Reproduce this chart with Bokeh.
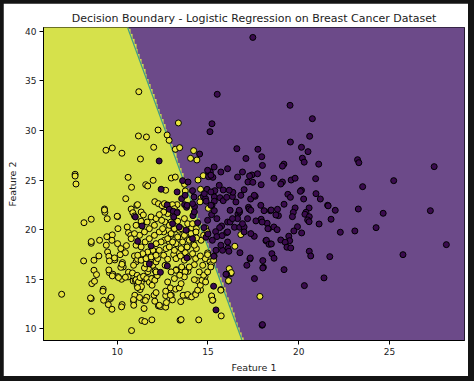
import numpy as np
from bokeh.plotting import figure
from bokeh.layouts import column
from bokeh.models import Range1d, FixedTicker, LinearColorMapper
from bokeh.embed import file_html
from bokeh.resources import INLINE

# ---------------- data ----------------
title_text = "Decision Boundary - Logistic Regression on Breast Cancer Dataset"
x_label = "Feature 1"
y_label = "Feature 2"
x_ticks = [10, 15, 20, 25]
y_ticks = [10, 15, 20, 25, 30, 35, 40]

# logistic-regression model (benign logit = cx*x + cy*y + b)
coef_x = -0.50
coef_y = -0.10
intercept = 9.323

benign = [
    (11.19, 33.9), (13.37, 30.75), (12.25, 30.04), (11.17, 29.44), (11.61, 29.34), (12.75, 29.54),
    (12.86, 29.0), (12.01, 28.3), (13.2, 28.1), (13.44, 28.26), (14.21, 27.96), (9.38, 28.0),
    (9.73, 28.23), (10.26, 27.7), (11.28, 27.12), (14.39, 27.02), (14.04, 27.19),
    (7.68, 25.58), (7.68, 25.4), (7.73, 24.6), (10.6, 25.27), (10.79, 24.27), (11.57, 24.53),
    (11.68, 24.4), (11.98, 24.97), (12.98, 25.2), (13.2, 25.3), (12.67, 23.97), (13.71, 24.57),
    (13.75, 23.9), (14.45, 25.0), (14.74, 25.44), (14.59, 24.07), (14.62, 23.2), (14.56, 22.8),
    (15.02, 22.15), (10.47, 23.12), (12.07, 22.82), (12.27, 22.62), (12.47, 22.42), (13.3, 22.52),
    (13.04, 22.39), (9.3, 22.08), (9.32, 21.75), (9.45, 21.1), (10.02, 21.31), (10.77, 22.08),
    (10.86, 21.71), (11.08, 22.45), (11.32, 21.78), (11.44, 21.48), (10.95, 21.38), (8.17, 20.7),
    (8.57, 21.05), (11.12, 22.52),
    (9.03, 18.93), (8.57, 18.63), (8.15, 16.85), (8.99, 17.35), (9.4, 18.43), (9.43, 19.29),
    (9.73, 19.47), (9.71, 18.93), (10.04, 20.1), (10.55, 20.27), (10.62, 19.7), (10.75, 19.43),
    (10.02, 18.59), (10.2, 18.09), (10.45, 17.68), (10.51, 18.39), (9.47, 17.75), (9.54, 17.32),
    (10.16, 17.48), (9.87, 16.95), (8.72, 15.91), (8.86, 15.47), (8.6, 14.56), (8.75, 14.8),
    (9.23, 14.0), (9.21, 13.8), (6.94, 13.49), (8.57, 13.05), (8.59, 11.77), (9.25, 12.89),
    (9.71, 11.98), (9.63, 13.05), (10.27, 12.45), (9.57, 15.67), (9.76, 15.51), (10.04, 15.27),
    (10.24, 15.0), (10.29, 16.68), (10.33, 16.24), (10.62, 15.71), (10.6, 15.24), (10.84, 15.64),
    (10.88, 14.83), (11.1, 15.4), (11.1, 14.83), (11.32, 14.66), (11.26, 13.96), (11.45, 12.89),
    (11.63, 13.19), (10.97, 13.39), (10.9, 12.79), (11.48, 12.05), (11.36, 10.84), (11.52, 10.74),
    (11.91, 10.91), (10.79, 9.83), (13.46, 10.88), (14.49, 10.91), (12.27, 12.32), (12.4, 12.25),
    (12.67, 12.19), (12.8, 13.76), (12.67, 13.35), (12.98, 13.39), (13.04, 12.92), (13.5, 12.75),
    (13.74, 13.39), (13.94, 13.29), (14.32, 13.55), (14.59, 13.93), (15.2, 13.29), (15.27, 12.89),
    (15.71, 13.96), (15.73, 11.31), (14.73, 14.93), (14.84, 15.27), (14.43, 14.86), (14.25, 14.96),
    (13.9, 15.8), (13.77, 15.87), (13.52, 15.97), (13.26, 15.97), (11.91, 15.1), (12.16, 15.34),
    (12.09, 15.87), (11.69, 15.77), (11.53, 15.07), (11.24, 15.04), (11.0, 14.86), (11.1, 14.33),
    (15.34, 17.35), (14.98, 17.65), (14.85, 17.08), (15.11, 16.75), (15.18, 16.48), (14.36, 18.09),
    (14.21, 18.53), (13.85, 18.23), (13.75, 17.68), (13.36, 17.72), (13.42, 19.94), (13.6, 19.23),
    (13.97, 19.6), (14.1, 20.2), (14.36, 20.1),
    (9.57, 16.85), (9.85, 17.15), (10.2, 16.2), (10.26, 16.51), (9.54, 15.94), (9.73, 15.34),
    (10.07, 15.17), (10.45, 15.2), (11.04, 14.96), (11.17, 14.73), (11.26, 15.17), (11.34, 14.26),
    (11.12, 14.16), (11.45, 15.3), (11.63, 15.07), (11.77, 14.7), (11.9, 15.07), (11.92, 14.4),
    (12.07, 14.9), (12.21, 15.37), (12.14, 15.74), (11.72, 16.07), (11.5, 16.14), (11.96, 16.41),
    (11.59, 16.55), (12.14, 16.75), (11.04, 16.75), (10.9, 16.41), (10.95, 17.35), (11.12, 17.02),
    (11.37, 17.42), (11.63, 17.35), (11.87, 17.08), (12.07, 17.35), (12.23, 17.08), (8.53, 13.12),
    (9.51, 12.45), (9.67, 13.19), (10.24, 12.22), (10.9, 12.95), (10.91, 12.38), (11.23, 13.16),
    (11.55, 12.86), (12.03, 13.39), (12.07, 12.79), (12.14, 13.66), (12.32, 12.38), (8.72, 16.92),
    (12.56, 17.42), (12.78, 17.02), (12.64, 16.41), (13.11, 17.48), (13.24, 17.08), (13.48, 17.35),
    (13.7, 16.92), (13.92, 17.25), (14.15, 17.58), (14.32, 17.08), (14.58, 17.35), (14.98, 17.48),
    (14.71, 16.41), (14.25, 16.47), (13.97, 16.24), (13.55, 16.24), (13.24, 15.91), (12.97, 15.74),
    (13.74, 15.74), (13.7, 15.24), (13.44, 15.41), (13.15, 15.07), (12.78, 14.73), (12.93, 14.13),
    (12.67, 13.8), (12.93, 13.39), (12.71, 12.65), (13.22, 14.0), (13.42, 14.13), (13.52, 14.56),
    (13.63, 13.39), (13.88, 13.46), (14.1, 13.22), (14.32, 13.46), (14.43, 13.9), (14.58, 14.4),
    (14.67, 14.9), (14.87, 14.73), (14.76, 15.41), (14.52, 15.74), (14.98, 15.74), (15.16, 16.24),
    (15.31, 16.92), (15.2, 13.32), (15.25, 12.89), (15.71, 13.9), (16.17, 16.07), (16.26, 15.57),
    (16.13, 14.83), (17.86, 13.27), (13.52, 10.94),
    (12.6, 22.62), (12.82, 22.45), (13.04, 22.52), (13.15, 22.11), (13.3, 21.78), (13.08, 21.61),
    (12.78, 21.61), (12.56, 21.78), (12.64, 20.77), (12.97, 20.77), (13.33, 20.85), (13.7, 21.11),
    (13.88, 20.6), (14.15, 20.6), (13.52, 20.1), (13.15, 20.04), (12.82, 19.94), (12.56, 19.77),
    (12.97, 19.43), (13.33, 19.26), (13.7, 19.43), (14.07, 19.6), (14.34, 19.77), (13.97, 18.93),
    (13.6, 18.76), (13.24, 18.59), (12.87, 18.76), (12.6, 18.93), (12.69, 18.09), (13.15, 17.92),
    (13.52, 18.09), (13.85, 18.26), (14.25, 18.43), (14.62, 18.93), (14.76, 19.43), (14.37, 19.16),
    (16.81, 19.5), (16.48, 18.33), (14.87, 20.17), (14.95, 19.8), (16.28, 15.67), (16.13, 14.86),
    (11.04, 20.44), (11.32, 20.85), (11.65, 20.77), (11.87, 21.28), (12.14, 21.11), (12.32, 21.51),
    (12.45, 20.94), (12.05, 20.44), (11.77, 20.1), (11.5, 19.77), (11.23, 19.43), (10.95, 19.6),
    (10.77, 19.09), (11.04, 18.43), (11.32, 18.26), (11.54, 18.76), (11.77, 19.09), (12.05, 19.43),
    (12.32, 19.77), (12.5, 20.1), (12.42, 18.76), (12.14, 18.59), (11.96, 17.92), (11.68, 17.75),
    (11.41, 17.58), (11.13, 17.42), (11.32, 16.92), (11.59, 17.08), (11.87, 17.25), (12.14, 17.42),
    (12.32, 17.92), (12.87, 18.26), (13.05, 18.76), (12.78, 19.09), (12.97, 19.6), (13.15, 20.1),
    (12.87, 20.44), (9.3, 21.98), (10.0, 21.35), (8.57, 18.8),
]

malignant = [
    (19.52, 32.53), (20.75, 31.18), (20.6, 29.41), (19.54, 28.83), (20.15, 28.3), (20.51, 27.86),
    (20.2, 27.2), (20.3, 26.8), (19.18, 26.6), (19.1, 26.4), (21.1, 26.6), (23.24, 27.05),
    (23.31, 26.75), (27.46, 26.35), (18.63, 25.18), (19.1, 24.8), (19.01, 24.6), (19.58, 25.0),
    (19.8, 25.18), (20.93, 25.14), (25.23, 24.94), (23.52, 24.33), (20.15, 23.97), (20.09, 23.86),
    (19.4, 23.56), (19.54, 23.26), (20.95, 23.63), (21.19, 23.09), (20.27, 23.09), (19.19, 22.56),
    (21.59, 22.46), (21.62, 22.4), (22.01, 21.95), (23.28, 22.08), (24.65, 21.65), (27.25, 21.91),
    (18.44, 21.91), (18.83, 22.05), (18.88, 21.41), (18.74, 21.48), (19.8, 22.19), (19.7, 21.75),
    (19.65, 21.31), (20.57, 22.19), (20.4, 21.75), (20.34, 21.55), (20.58, 21.31), (20.49, 20.98),
    (20.57, 20.8), (21.12, 20.57), (21.78, 21.05), (18.26, 20.64), (18.34, 20.1), (18.63, 20.27),
    (18.81, 20.0), (19.93, 20.3), (19.73, 19.87), (20.16, 19.67), (22.29, 19.74), (23.09, 19.87),
    (24.26, 20.2), (19.01, 18.96), (19.45, 19.34), (19.5, 18.89), (19.25, 18.73), (18.19, 18.89),
    (18.44, 18.56), (19.35, 18.23), (19.56, 18.16), (18.52, 17.58), (18.64, 17.12), (20.58, 17.82),
    (20.66, 17.35), (21.71, 17.28), (25.74, 17.48), (28.13, 18.49), (19.19, 15.97), (21.39, 15.14),
    (20.31, 14.36),
    (17.47, 39.37), (15.51, 33.64), (15.22, 30.67), (15.11, 29.87), (16.59, 28.16), (17.75, 28.1),
    (12.31, 26.92), (14.54, 27.62), (12.42, 24.07), (13.6, 24.94), (13.9, 24.8), (15.05, 25.65),
    (14.15, 23.93), (14.23, 23.29), (14.74, 23.36), (14.95, 24.06), (15.38, 23.93), (15.84, 24.0),
    (12.75, 22.49), (12.87, 22.05), (13.09, 21.85), (13.3, 21.71), (13.71, 22.52), (13.82, 22.25),
    (14.26, 22.32), (14.17, 21.41), (14.78, 20.2), (14.89, 19.23), (15.31, 14.3), (15.44, 11.91),
    (12.38, 15.7), (11.77, 16.55), (12.76, 16.34), (11.37, 20.37), (11.13, 18.82), (11.87, 18.36),
    (11.0, 21.28), (13.05, 20.6),
    (17.09, 27.17), (15.03, 25.34), (15.13, 25.81), (15.27, 25.27), (14.87, 23.12), (15.35, 23.29),
    (15.66, 23.22), (15.84, 22.92), (16.03, 23.26), (16.35, 23.33), (16.37, 23.77), (16.99, 24.03),
    (17.2, 24.8), (17.47, 24.77), (17.42, 25.51), (17.29, 25.41), (17.93, 24.53), (17.6, 23.36),
    (17.35, 23.09), (14.9, 22.86), (15.35, 22.86), (15.22, 22.45), (16.22, 21.95), (16.65, 21.58),
    (16.74, 21.78), (17.23, 22.25), (17.27, 22.08), (17.64, 20.88), (17.93, 21.05), (18.09, 21.91),
    (18.48, 21.98), (15.49, 21.11), (15.75, 20.37), (15.64, 20.2), (16.08, 20.77), (16.22, 20.77),
    (16.63, 21.11), (16.46, 20.24), (16.75, 20.24), (16.99, 20.27), (15.42, 19.8), (15.49, 19.3),
    (15.0, 19.57), (15.24, 18.93), (15.78, 19.4), (16.03, 19.7), (17.55, 19.33), (18.22, 18.93),
    (18.36, 18.53), (18.49, 18.56), (17.98, 20.77), (18.3, 20.1), (15.8, 17.92), (16.1, 18.13),
    (16.15, 17.82), (16.76, 17.68), (17.31, 17.05), (17.14, 16.41), (18.02, 16.88), (18.05, 16.21),
    (17.56, 15.07), (15.32, 17.32), (16.03, 15.5), (17.98, 10.37),
    (13.84, 17.15), (15.99, 15.5), (17.33, 17.15), (18.02, 16.14), (18.0, 10.43),
    (13.3, 23.8), (13.55, 23.12), (13.74, 23.46), (13.85, 22.45), (14.15, 22.62), (14.25, 21.78),
    (13.11, 21.28), (13.42, 20.27), (13.79, 19.94), (14.15, 19.09), (14.43, 20.7), (14.98, 20.94),
    (15.2, 21.51), (15.35, 21.91), (14.8, 23.62), (15.16, 23.8), (15.16, 22.45), (14.98, 25.98),
    (15.34, 26.31), (15.16, 25.48),
    (15.71, 25.81), (16.08, 26.14), (16.63, 25.3), (16.9, 25.81), (15.62, 24.47), (16.17, 23.97),
    (16.81, 23.46), (16.54, 22.79), (17.55, 23.46), (17.91, 22.45), (17.36, 21.95), (16.72, 21.95),
    (16.35, 21.11), (16.08, 19.77), (16.9, 20.6), (17.18, 21.11), (16.99, 19.77), (17.36, 19.6),
    (16.08, 18.76), (15.71, 18.43), (15.44, 17.92), (18.0, 26.47), (17.73, 25.63), (17.96, 27.35),
]

# ---------------- colours ----------------
bg_purple = "#6c4a89"
bg_yellow = "#d6e14b"
pt_yellow = "#e8e33e"
pt_purple = "#3a0b4e"
edge_teal = "#3f9c8a"

bx = [p_[0] for p_ in benign]
by = [p_[1] for p_ in benign]
mx = [p_[0] for p_ in malignant]
my = [p_[1] for p_ in malignant]

all_x = bx + mx
all_y = by + my
x_min, x_max = min(all_x) - 1, max(all_x) + 1
y_min, y_max = min(all_y) - 1, max(all_y) + 1

# decision grid
h = 0.1
xx = np.arange(x_min, x_max, h)
yy = np.arange(y_min, y_max, h)
XX, YY = np.meshgrid(xx, yy)
Z = ((coef_x * XX + coef_y * YY + intercept) > 0).astype(float)

p = figure(width=465, height=373,
           x_range=Range1d(x_min, x_max), y_range=Range1d(y_min, y_max),
           output_backend="svg", toolbar_location=None,
           min_border_left=40, min_border_right=4, min_border_top=24, min_border_bottom=36,
           title=title_text)

mapper = LinearColorMapper(palette=[bg_purple, bg_yellow], low=0, high=1)
p.image(image=[Z], x=x_min, y=y_min, dw=len(xx) * h, dh=len(yy) * h, color_mapper=mapper)

# boundary edge
edge_y = np.array([y_min, y_max])
edge_x = -(coef_y * edge_y + intercept) / coef_x
p.line(edge_x, edge_y, line_color=edge_teal, line_width=1.2)

p.scatter(bx, by, size=6, fill_color=pt_yellow, line_color="black", line_width=1)
p.scatter(mx, my, size=6, fill_color=pt_purple, line_color="black", line_width=1)

font = "DejaVu Sans"
p.title.text_font = font
p.title.text_font_size = "11px"
p.title.text_font_style = "normal"
p.title.align = "center"
p.title.text_color = "#222222"
p.title.standoff = 5

p.xaxis.ticker = FixedTicker(ticks=x_ticks)
p.yaxis.ticker = FixedTicker(ticks=y_ticks)
p.xaxis.axis_label = x_label
p.yaxis.axis_label = y_label
for ax in (p.xaxis, p.yaxis):
    ax.axis_label_text_font = font
    ax.axis_label_text_font_size = "9.5px"
    ax.axis_label_text_font_style = "normal"
    ax.axis_label_text_color = "#222222"
    ax.major_label_text_font = font
    ax.major_label_text_font_size = "9px"
    ax.major_label_text_color = "#222222"
    ax.major_tick_out = 4
    ax.major_tick_in = 0
    ax.minor_tick_out = 0
    ax.minor_tick_in = 0
    ax.axis_line_color = "black"
    ax.major_tick_line_color = "black"
    ax.major_label_standoff = 3
    ax.axis_label_standoff = 4

p.xgrid.visible = False
p.ygrid.visible = False
p.outline_line_color = "black"
p.outline_line_width = 1
p.background_fill_color = "white"
p.border_fill_color = "white"

page = column(p, styles={"background-color": "#141414", "padding": "3px 6px 5px 3px"})

open("out.html", "w").write(file_html(page, INLINE))
